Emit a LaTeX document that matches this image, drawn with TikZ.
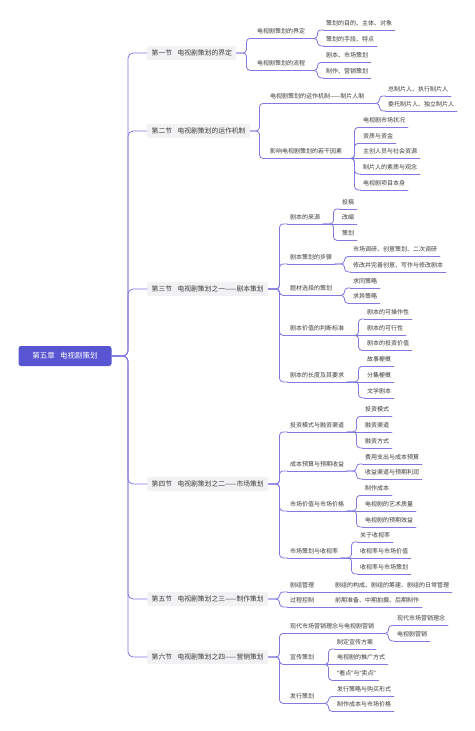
\documentclass[tikz,border=0pt]{standalone}
\usepackage{fontspec}
\setmainfont{Noto Sans CJK SC}
\newfontfamily\latinfont{Noto Sans}
\definecolor{branchline}{RGB}{128,121,224}
\definecolor{chapterblue}{RGB}{88,84,210}
\definecolor{secgray}{RGB}{242,242,244}
\definecolor{txt}{RGB}{60,60,60}
\newcommand{\qo}{{\latinfont “}}
\newcommand{\qc}{{\latinfont ”}}
\begin{document}
\begin{tikzpicture}[x=1pt,y=-1pt,line cap=round,line join=round,
  branch/.style={draw=branchline,line width=0.8pt,rounded corners=3.5pt},
  chapter/.style={fill=chapterblue,text=white,rounded corners=2.5pt,minimum width=93pt,minimum height=20pt,inner sep=0pt,font=\fontsize{7.5}{9}\selectfont},
  secbox/.style={fill=secgray,text=txt,rounded corners=2pt,anchor=west,inner xsep=4.5pt,inner ysep=4pt,text height=5.2pt,text depth=1pt,font=\fontsize{6.8}{8}\selectfont},
  topic/.style={anchor=west,text=txt,inner xsep=2.5pt,inner ysep=3.7pt,text height=5pt,text depth=1pt,font=\fontsize{6}{7}\selectfont,
    append after command={(\tikzlastnode.south west) edge[branch] (\tikzlastnode.south east)}}]
  \path[use as bounding box,fill=white] (0,0) rectangle (474,731);

  \node[chapter] (root) at (65,356) {第五章\hspace{0.7em}电视剧策划};

  \node[secbox] (s1) at (147,53) {第一节\hspace{0.8em}电视剧策划的界定};
  \node[secbox] (s2) at (147,131) {第二节\hspace{0.8em}电视剧策划的运作机制};
  \node[secbox] (s3) at (147,289) {第三节\hspace{0.8em}电视剧策划之一——剧本策划};
  \node[secbox] (s4) at (147,484) {第四节\hspace{0.8em}电视剧策划之二——市场策划};
  \node[secbox] (s5) at (147,599) {第五节\hspace{0.8em}电视剧策划之三——制作策划};
  \node[secbox] (s6) at (147,657) {第六节\hspace{0.8em}电视剧策划之四——营销策划};

  \node[topic] (s1a) at (254.5,31.5) {电视剧策划的界定};
  \node[topic] (s1b) at (254.5,63.5) {电视剧策划的流程};
  \node[topic] (s2a) at (267.5,96.5) {电视剧策划的运作机制——制片人制};
  \node[topic] (s2b) at (267.5,151.5) {影响电视剧策划的若干因素};
  \node[topic] (s3a) at (287.5,217) {剧本的来源};
  \node[topic] (s3b) at (287.5,257) {剧本策划的步骤};
  \node[topic] (s3c) at (287.5,288.5) {题材选择的策划};
  \node[topic] (s3d) at (287.5,328.5) {剧本价值的判断标准};
  \node[topic] (s3e) at (287.5,375) {剧本的长度及其要求};
  \node[topic] (s4a) at (287.5,425) {投资模式与融资渠道};
  \node[topic] (s4b) at (287.5,464) {成本预算与预期收益};
  \node[topic] (s4c) at (287.5,504) {市场价值与市场价格};
  \node[topic] (s4d) at (287.5,551) {市场策划与收视率};
  \node[topic] (s5a) at (287.5,585) {剧组管理};
  \node[topic] (s5b) at (287.5,600) {过程控制};
  \node[topic] (s6a) at (287.5,626.5) {现代市场营销理念与电视剧营销};
  \node[topic] (s6b) at (287.5,657.5) {宣传策划};
  \node[topic] (s6c) at (287.5,696.5) {发行策划};

  \node[topic] (s1a1) at (323.5,23) {策划的目的、主体、对象};
  \node[topic] (s1a2) at (323.5,39) {策划的手段、特点};
  \node[topic] (s1b1) at (323.5,55.5) {剧本、市场策划};
  \node[topic] (s1b2) at (323.5,71) {制作、营销策划};
  \node[topic] (s2a1) at (385.5,89) {总制片人、执行制片人};
  \node[topic] (s2a2) at (385.5,104) {委托制片人、独立制片人};
  \node[topic] (s2b1) at (360.5,120.5) {电视剧市场状况};
  \node[topic] (s2b2) at (360.5,136.5) {资质与资金};
  \node[topic] (s2b3) at (360.5,151.5) {主创人员与社会资源};
  \node[topic] (s2b4) at (360.5,167) {制片人的素质与观念};
  \node[topic] (s2b5) at (360.5,183) {电视剧项目本身};
  \node[topic] (s3a1) at (339.5,202) {投稿};
  \node[topic] (s3a2) at (339.5,217) {改编};
  \node[topic] (s3a3) at (339.5,233.5) {策划};
  \node[topic] (s3b1) at (350.5,249.5) {市场调研、创意策划、二次调研};
  \node[topic] (s3b2) at (350.5,265) {修改并完善创意、写作与修改剧本};
  \node[topic] (s3c1) at (350.5,281) {求同策略};
  \node[topic] (s3c2) at (350.5,296.5) {求异策略};
  \node[topic] (s3d1) at (364.5,312) {剧本的可操作性};
  \node[topic] (s3d2) at (364.5,328.5) {剧本的可行性};
  \node[topic] (s3d3) at (364.5,343.5) {剧本的投资价值};
  \node[topic] (s3e1) at (364.5,359.5) {故事梗概};
  \node[topic] (s3e2) at (364.5,375) {分集梗概};
  \node[topic] (s3e3) at (364.5,391) {文学剧本};
  \node[topic] (s4a1) at (362.5,409.5) {投资模式};
  \node[topic] (s4a2) at (362.5,425) {融资渠道};
  \node[topic] (s4a3) at (362.5,441) {融资方式};
  \node[topic] (s4b1) at (362.5,457) {费用支出与成本预算};
  \node[topic] (s4b2) at (362.5,472) {收益渠道与预期利润};
  \node[topic] (s4c1) at (362.5,488.5) {制作成本};
  \node[topic] (s4c2) at (362.5,504) {电视剧的艺术质量};
  \node[topic] (s4c3) at (362.5,520) {电视剧的预期效益};
  \node[topic] (s4d1) at (357.5,535) {关于收视率};
  \node[topic] (s4d2) at (357.5,551) {收视率与市场价值};
  \node[topic] (s4d3) at (357.5,567) {收视率与市场策划};
  \node[topic] (s5a1) at (332.5,585) {剧组的构成、剧组的筹建、剧组的日常管理};
  \node[topic] (s5b1) at (332.5,600) {前期准备、中期拍摄、后期制作};
  \node[topic] (s6a1) at (394.5,618.5) {现代市场营销理念};
  \node[topic] (s6a2) at (394.5,634) {电视剧营销};
  \node[topic] (s6b1) at (334.5,642) {制定宣传方案};
  \node[topic] (s6b2) at (334.5,657.5) {电视剧的推广方式};
  \node[topic] (s6b3) at (334.5,673.5) {\qo 看点\qc 与\qo 卖点\qc};
  \node[topic] (s6c1) at (334.5,689.5) {发行策略与购买形式};
  \node[topic] (s6c2) at (334.5,704.5) {制作成本与市场价格};

  \foreach \s in {s1,s2,s3,s4,s5,s6}
    \draw[branch,rounded corners=5pt] (\s.west) -- ++(-19,0) |- (root.east);
  \foreach \s/\cs in {s1/{s1a,s1b},s2/{s2a,s2b},s3/{s3a,s3b,s3c,s3d,s3e},s4/{s4a,s4b,s4c,s4d},s5/{s5a,s5b},s6/{s6a,s6b,s6c}}
    \foreach \c in \cs
      \draw[branch] (\c.south west) -- ++(-8,0) |- (\s.east);
  \foreach \p/\cs in {s1a/{s1a1,s1a2},s1b/{s1b1,s1b2},s2a/{s2a1,s2a2},s2b/{s2b1,s2b2,s2b4,s2b5},
      s3a/{s3a1,s3a3},s3b/{s3b1,s3b2},s3c/{s3c1,s3c2},s3d/{s3d1,s3d3},s3e/{s3e1,s3e3},
      s4a/{s4a1,s4a3},s4b/{s4b1,s4b2},s4c/{s4c1,s4c3},s4d/{s4d1,s4d3},
      s6a/{s6a1,s6a2},s6b/{s6b1,s6b3},s6c/{s6c1,s6c2}}
    \foreach \c in \cs
      \draw[branch] (\c.south west) -- ++(-6,0) |- (\p.south east);
  \foreach \p/\c in {s2b/s2b3,s3a/s3a2,s3d/s3d2,s3e/s3e2,s4a/s4a2,s4c/s4c2,s4d/s4d2,s5a/s5a1,s5b/s5b1,s6b/s6b2}
    \draw[branch] (\p.south east) -- (\c.south west);
\end{tikzpicture}
\end{document}
